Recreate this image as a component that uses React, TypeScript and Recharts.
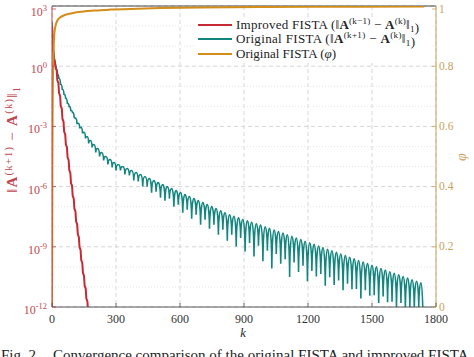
import React from 'react';
import { LineChart, Line, XAxis, YAxis, CartesianGrid, ReferenceLine } from 'recharts';

const W = 474;
const H = 357;

// Tick labels / axes
const xTicks = [0, 300, 600, 900, 1200, 1500, 1800];
const leftTicks = [-12, -9, -6, -3, 0, 3]; // exponents of 10
const minorDecades = [-11, -10, -8, -7, -5, -4, -2, -1, 1, 2];
const rightTicks = [0, 0.2, 0.4, 0.6, 0.8, 1];

const seriesNames = ['Improved FISTA', 'Original FISTA', 'Original FISTA'];

// Improved FISTA: iteration k and log10 of the norm
const redK = [0, 3, 6, 10, 14, 17, 22, 25, 30, 33, 38, 41, 46, 49, 54, 57, 62, 65, 70, 73, 78, 81, 86, 89, 94, 97, 102, 105, 110, 113, 118, 121, 126, 129, 134, 137, 142, 145, 150, 153, 158, 161, 166, 169, 172];
const redExp = [2.0, 1.3, 0.7, 0.35, 0.2, -0.1, -0.2, -0.7, -0.84, -1.34, -1.48, -1.98, -2.12, -2.62, -2.76, -3.26, -3.4, -3.9, -4.04, -4.54, -4.68, -5.18, -5.32, -5.82, -5.96, -6.46, -6.6, -7.1, -7.24, -7.74, -7.88, -8.38, -8.52, -9.02, -9.16, -9.66, -9.8, -10.3, -10.44, -10.94, -11.08, -11.58, -11.72, -12.22, -13];

// Original FISTA norm: early part (k < 300)
const tealEarlyK = [0, 2, 4, 7, 10, 14, 20, 26, 32, 40, 48, 56, 64, 72, 80, 88, 96, 104, 110, 117, 123, 130, 136, 143, 150, 157, 164, 172, 180, 188, 196, 205, 214, 223, 232, 242, 252, 262, 272, 282, 291, 300];
const tealEarlyExp = [2.2, 1.7, 1.2, 0.75, 0.4, 0.1, -0.15, -0.4, -0.6, -0.9, -1.15, -1.4, -1.6, -1.85, -2.0, -2.2, -2.3, -2.55, -2.6, -2.85, -2.85, -3.1, -3.05, -3.35, -3.3, -3.6, -3.5, -3.85, -3.7, -4.05, -3.9, -4.3, -4.1, -4.5, -4.3, -4.7, -4.5, -4.9, -4.65, -5.05, -4.8, -5.2];

// Original FISTA norm: oscillating part, one peak and one dip per cycle
const tealCycleStart = 300;
const tealCycleEnd = 1740;
const tealPeakExp = [
  -4.9, -5.0, -5.1, -5.2, -5.3, -5.4, -5.5, -5.6, -5.7, -5.8,
  -5.9, -6.0, -6.1, -6.2, -6.3, -6.4, -6.5, -6.6, -6.7, -6.8,
  -6.9, -7.0, -7.1, -7.2, -7.3, -7.4, -7.48, -7.56, -7.64, -7.71,
  -7.78, -7.85, -7.92, -8.0, -8.08, -8.16, -8.24, -8.32, -8.4, -8.48,
  -8.56, -8.64, -8.72, -8.8, -8.88, -8.96, -9.04, -9.12, -9.2, -9.28,
  -9.36, -9.44, -9.52, -9.6, -9.68, -9.76, -9.84, -9.92, -10.0, -10.08,
  -10.16, -10.24, -10.32, -10.4, -10.48, -10.56, -10.64, -10.72, -10.8,
];
const tealDipExp = [
  -5.2, -5.4, -5.45, -5.7, -5.75, -6.0, -6.0, -6.3, -6.25, -6.55,
  -6.7, -6.6, -7.0, -6.9, -7.3, -7.15, -7.6, -7.4, -7.9, -7.65,
  -8.1, -7.9, -8.4, -8.15, -8.7, -8.4, -8.98, -8.56, -9.24, -8.81,
  -9.48, -8.95, -9.72, -9.2, -10.08, -9.36, -9.84, -9.62, -10.5, -9.78,
  -10.26, -9.94, -10.72, -10.2, -10.48, -10.36, -10.94, -10.52, -10.9, -10.68,
  -11.16, -10.84, -11.12, -11.1, -11.58, -11.16, -11.44, -11.42, -11.8, -11.48,
  -11.76, -11.74, -12.02, -11.8, -12.08, -12.06, -12.14, -12.02, -13.5,
];

// Original FISTA momentum parameter phi
const phiK = [0, 1, 2, 3, 4, 6, 8, 10, 14, 20, 28, 40, 60, 80, 100, 140, 200, 272, 400, 506, 700, 1000, 1400, 1745];
const phiVal = [0, 0.2, 0.5, 0.66, 0.74, 0.82, 0.87, 0.9, 0.925, 0.943, 0.955, 0.963, 0.97, 0.974, 0.977, 0.981, 0.985, 0.988, 0.991, 0.993, 0.995, 0.9965, 0.9975, 0.998];

// Colours
const RED = '#c62a35';
const TEAL = '#12857e';
const ORANGE = '#d38d19';
const LEFT_TXT = '#c0474f';
const RIGHT_TXT = '#c9a15a';
const FONT = "'Liberation Serif', serif";
const serif = { fontFamily: FONT };

const redData = redK.map((k, i) => ({ k, v: redExp[i] }));
const tealData = (() => {
  const rows = tealEarlyK.map((k, i) => ({ k, v: tealEarlyExp[i] }));
  const n = tealPeakExp.length;
  const period = (tealCycleEnd - tealCycleStart) / n;
  for (let i = 0; i < n; i++) {
    rows.push({ k: tealCycleStart + period * (i + 0.5), v: tealPeakExp[i] });
    rows.push({ k: tealCycleStart + period * (i + 1), v: tealDipExp[i] });
  }
  return rows;
})();
const phiData = phiK.map((k, i) => ({ k, p: phiVal[i] }));

// Curve that draws rounded arches between sharp cusps (the look of the oscillating series)
const archCurve = (context: any) => {
  let px = 0;
  let py = 0;
  let n = 0;
  return {
    areaStart() {},
    areaEnd() {},
    lineStart() {
      n = 0;
    },
    lineEnd() {},
    point(x: number, y: number) {
      x = +x;
      y = +y;
      if (n === 0) context.moveTo(x, y);
      else {
        const dx = x - px;
        const dy = y - py;
        if (dy < 0) {
          context.bezierCurveTo(px + 0.1 * dx, py + 0.7 * dy, x - 0.45 * dx, y, x, y);
        } else {
          context.bezierCurveTo(px + 0.45 * dx, py, x - 0.1 * dx, y - 0.7 * dy, x, y);
        }
      }
      px = x;
      py = y;
      n++;
    },
  };
};

const XTick = (props: any) => {
  const { x, y, payload } = props;
  const ay = y - 8;
  return (
    <g>
      <line x1={x} x2={x} y1={ay} y2={ay - 4} stroke="#444" strokeWidth={0.8} />
      <text x={x} y={y + 8} textAnchor="middle" fontSize={12} fill="#333" style={serif}>
        {payload.value}
      </text>
    </g>
  );
};

const LeftTick = (props: any) => {
  const { x, y, payload } = props;
  const ax = x + 5;
  return (
    <g>
      <line x1={ax} x2={ax + 4} y1={y} y2={y} stroke={LEFT_TXT} strokeWidth={0.8} />
      <text x={x} y={y + 7} textAnchor="end" fontSize={12} fill={LEFT_TXT} style={serif}>
        10<tspan dy={-5} fontSize={8.5}>{payload.value}</tspan>
      </text>
    </g>
  );
};

const RightTick = (props: any) => {
  const { x, y, payload } = props;
  const ax = x - 3;
  return (
    <g>
      <line x1={ax} x2={ax - 4} y1={y} y2={y} stroke={RIGHT_TXT} strokeWidth={0.8} />
      <text x={x} y={y + 3.5} textAnchor="start" fontSize={11.5} fill={RIGHT_TXT} style={serif}>
        {payload.value}
      </text>
    </g>
  );
};

const NormText = ({ sign }: { sign: string }) => (
  <>
    {'‖'}
    <tspan fontWeight="bold">A</tspan>
    <tspan dy={-5} fontSize="0.7em">{`(k${sign}1)`}</tspan>
    <tspan dy={5}>{' − '}</tspan>
    <tspan fontWeight="bold">A</tspan>
    <tspan dy={-5} fontSize="0.7em">(k)</tspan>
    <tspan dy={5}>‖</tspan>
    <tspan dy={3} fontSize="0.7em">1</tspan>
  </>
);

const LegendRow = ({ color, width, children }: { color: string; width?: number; children: React.ReactNode }) => (
  <div style={{ display: 'flex', alignItems: 'center', height: 14.3 }}>
    <svg width={39} height={14} style={{ display: 'block' }}>
      <line x1={2} x2={36} y1={7} y2={7} stroke={color} strokeWidth={2} />
    </svg>
    <svg width={192} height={14} style={{ display: 'block', overflow: 'visible' }}>
      <text x={1} y={11} fontSize={13} fill="#222" style={serif} textLength={width} lengthAdjust="spacing">
        {children}
      </text>
    </svg>
  </div>
);

export default function App() {
  return (
    <div style={{ position: 'absolute', left: 0, top: 0, width: W, height: H, overflow: 'hidden', background: '#fff' }}>
      <LineChart width={W} height={H} margin={{ top: 6, right: 0, bottom: 0, left: 0 }}>
        <CartesianGrid yAxisId="left" stroke="#d6d6d6" strokeDasharray="4 3" />
        {minorDecades.map((d) => (
          <ReferenceLine key={d} yAxisId="left" y={d} stroke="#e4e4e4" strokeDasharray="1 2" />
        ))}
        <XAxis
          dataKey="k"
          type="number"
          domain={[0, 1800]}
          ticks={xTicks}
          tickSize={0}
          tickMargin={8}
          height={50}
          stroke="#555"
          tick={<XTick />}
          allowDataOverflow
          label={{
            content: () => (
              <text x={243} y={337} textAnchor="middle" fontSize={12.5} fontStyle="italic" fill="#222" style={serif}>
                k
              </text>
            ),
          }}
        />
        <YAxis
          yAxisId="left"
          type="number"
          domain={[-12, 3]}
          ticks={leftTicks}
          width={52}
          tickSize={0}
          tickMargin={5}
          stroke={LEFT_TXT}
          tick={<LeftTick />}
          allowDataOverflow
          label={{
            content: () => (
              <text
                x={17}
                y={140}
                transform="rotate(-90, 17, 140)"
                textAnchor="middle"
                fontSize={15}
                fill={LEFT_TXT}
                style={serif}
                textLength={106}
                lengthAdjust="spacing"
              >
                <NormText sign="+" />
              </text>
            ),
          }}
        />
        <YAxis
          yAxisId="right"
          orientation="right"
          type="number"
          domain={[0, 1]}
          ticks={rightTicks}
          width={38}
          tickSize={0}
          tickMargin={3}
          stroke={RIGHT_TXT}
          tick={<RightTick />}
          allowDataOverflow
          label={{
            content: () => (
              <text
                x={466}
                y={157}
                transform="rotate(-90, 466, 157)"
                textAnchor="middle"
                fontSize={14}
                fontStyle="italic"
                fill={RIGHT_TXT}
                style={serif}
              >
                φ
              </text>
            ),
          }}
        />
        <ReferenceLine yAxisId="left" y={3} stroke="#444" strokeWidth={1} />
        <Line
          yAxisId="left"
          data={tealData}
          dataKey="v"
          type={archCurve as any}
          stroke={TEAL}
          strokeWidth={1.6}
          dot={false}
          isAnimationActive={false}
          name={seriesNames[1]}
        />
        <Line
          yAxisId="left"
          data={redData}
          dataKey="v"
          type="linear"
          stroke={RED}
          strokeWidth={2}
          dot={false}
          isAnimationActive={false}
          name={seriesNames[0]}
        />
        <Line
          yAxisId="right"
          data={phiData}
          dataKey="p"
          type="monotone"
          stroke={ORANGE}
          strokeWidth={2}
          dot={false}
          isAnimationActive={false}
          name={seriesNames[2]}
        />
      </LineChart>

      <div style={{ position: 'absolute', left: 196, top: 18, background: '#fff', padding: '0 6px 2px 0' }}>
        <LegendRow color={RED} width={183}>
          {seriesNames[0]} (<NormText sign="−" />)
        </LegendRow>
        <LegendRow color={TEAL} width={179}>
          {seriesNames[1]} (<NormText sign="+" />)
        </LegendRow>
        <LegendRow color={ORANGE}>
          {seriesNames[2]} (<tspan fontStyle="italic">φ</tspan>)
        </LegendRow>
      </div>

      <svg width={W} height={H} style={{ position: 'absolute', left: 0, top: 0, pointerEvents: 'none' }}>
        <text x={1} y={360} fontSize={15} fill="#222" style={serif}>
          Fig. 2.
        </text>
        <text x={53} y={360} fontSize={15} fill="#222" style={serif}>
          Convergence comparison of the original FISTA and improved FISTA
        </text>
      </svg>
    </div>
  );
}
